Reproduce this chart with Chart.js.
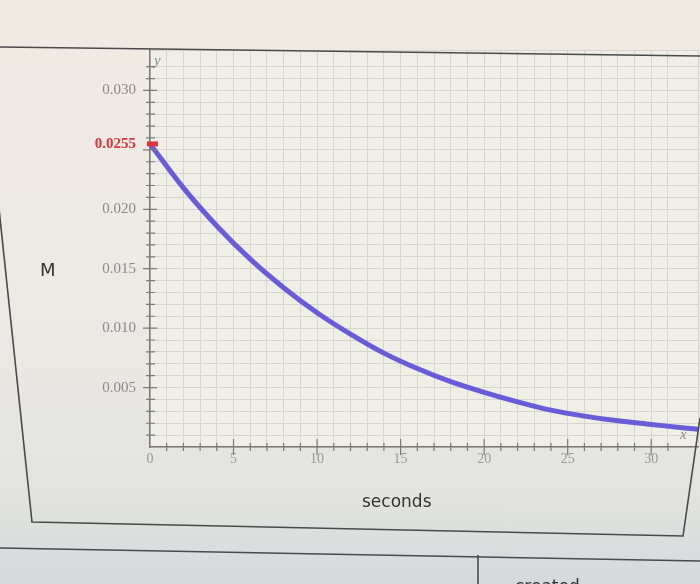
<!DOCTYPE html>
<html>
<head>
<meta charset="utf-8">
<script src="https://cdn.jsdelivr.net/npm/chart.js@4.4.1/dist/chart.umd.min.js"></script>
<style>
  html, body { margin: 0; padding: 0; }
  body {
    width: 700px; height: 584px; overflow: hidden; position: relative;
    background: linear-gradient(to bottom, #f1eae3 0px, #eceae4 300px, #e2e3e0 500px, #d5d9db 584px);
    font-family: "DejaVu Sans", sans-serif;
  }
  #wrap { position: absolute; left: 0; top: 40px; width: 700px; height: 440px; }
  #frame { position: absolute; left: 0; top: 0; width: 700px; height: 584px; pointer-events: none; }
  .lbl { position: absolute; color: #333; }
  .it { position: absolute; font-family: "Liberation Serif", serif; font-style: italic; color: #888; font-size: 15px; }
</style>
</head>
<body>
<div id="wrap"><canvas id="chart" width="700" height="440"></canvas></div>

<svg id="frame" width="700" height="584">
  <g stroke="#4a4a4a" stroke-width="1.6" fill="none">
    <line x1="0" y1="47" x2="700" y2="56"/>
    <polyline points="-18,47 32,522 683,536 700,418"/>
    <line x1="0" y1="548" x2="700" y2="561"/>
    <line x1="478" y1="555" x2="478" y2="584"/>
  </g>
</svg>

<div class="lbl" style="left:40px; top:259px; font-size:18px;">M</div>
<div class="lbl" style="left:362px; top:491px; font-size:17px;">seconds</div>
<div class="lbl" style="left:515px; top:576px; font-size:17px;">created</div>
<div class="it" style="left:154px; top:52px;">y</div>
<div class="it" style="left:680px; top:426px;">x</div>

<script>
// time (s) and M
const T_SEC = [0, 2, 4, 6, 8, 10, 12, 14, 16, 18, 20, 22, 24, 26, 28, 30, 32, 32.8];
const M_VAL = [0.0255, 0.0218, 0.0186, 0.0158, 0.0134, 0.0113, 0.0095, 0.0079, 0.0066,
               0.0055, 0.0046, 0.0038, 0.0031, 0.0026, 0.0022, 0.0019, 0.0016, 0.0015];
const X_LABELS = [0, 5, 10, 15, 20, 25, 30];
const Y_LABELS = [0.005, 0.010, 0.015, 0.020, 0.030];
const M0 = 0.0255; // marked start value

const RED = "#e0323c";
const GRID = "#d5d6ce";
const AXIS = "#7a7a7a";
const near = (a, b) => Math.abs(a - b) < 1e-9;
const isM0 = (c) => !!(c && c.tick && near(c.tick.value, M0));

// plot background + tick marks crossing the axes + red mark at M0
const axisDeco = {
  id: "axisDeco",
  beforeDraw(chart) {
    const { ctx, chartArea: a } = chart;
    ctx.save();
    ctx.fillStyle = "#efefe8";
    ctx.fillRect(a.left, a.top, a.right - a.left, a.bottom - a.top);
    ctx.restore();
  },
  afterDraw(chart) {
    const { ctx, scales: { x, y } } = chart;
    const x0 = x.getPixelForValue(0), y0 = y.getPixelForValue(0);
    ctx.save();
    ctx.strokeStyle = AXIS;
    ctx.lineWidth = 1.2;
    ctx.beginPath();
    y.ticks.forEach((t) => {
      if (t.value <= 0 || near(t.value, M0) || t.value > 0.0331) return;
      const p = y.getPixelForValue(t.value);
      const major = Math.round(t.value * 1000) % 5 === 0;
      ctx.moveTo(x0 - (major ? 7 : 4), p);
      ctx.lineTo(x0 + (major ? 7 : 5), p);
    });
    x.ticks.forEach((t) => {
      if (t.value <= 0 || t.value > 32.5) return;
      const p = x.getPixelForValue(t.value);
      const major = t.value % 5 === 0;
      ctx.moveTo(p, y0 - (major ? 8 : 4));
      ctx.lineTo(p, y0 + (major ? 8 : 4));
    });
    ctx.stroke();
    // red marker at the start value
    const pm = y.getPixelForValue(M0);
    ctx.fillStyle = RED;
    ctx.fillRect(x0 - 3, pm - 2.5, 11, 5);
    ctx.restore();
  },
};

new Chart(document.getElementById("chart"), {
  type: "line",
  data: {
    datasets: [{
      data: T_SEC.map((t, i) => ({ x: t, y: M_VAL[i] })),
      borderColor: "#6a5cd8",
      borderWidth: 5,
      pointRadius: 0,
      cubicInterpolationMode: "monotone",
    }],
  },
  options: {
    responsive: false,
    animation: false,
    devicePixelRatio: 1,
    layout: { padding: { top: 10, right: 2, left: 0, bottom: 0 } },
    plugins: { legend: { display: false }, tooltip: { enabled: false } },
    scales: {
      x: {
        type: "linear", min: 0, max: 32.8,
        afterFit: (s) => { s.height = 33; s.paddingLeft = 0; s.paddingRight = 0; },
        grid: { color: GRID, lineWidth: 1, drawTicks: false },
        border: { color: AXIS, width: 1.5 },
        ticks: {
          stepSize: 1, autoSkip: false, maxRotation: 0, padding: 4,
          color: "#9a9a9a", font: { family: "Liberation Serif", size: 14 },
          callback: (v) => X_LABELS.includes(v) ? String(v) : "",
        },
      },
      y: {
        type: "linear", min: 0, max: 0.0334,
        afterFit: (s) => { s.width = 150; s.paddingTop = 0; s.paddingBottom = 0; },
        afterBuildTicks: (s) => {
          s.ticks.push({ value: M0 });
          s.ticks.sort((a, b) => a.value - b.value);
        },
        grid: {
          drawTicks: false, lineWidth: 1,
          color: (c) => isM0(c) ? "transparent" : GRID,
        },
        border: { color: AXIS, width: 1.5 },
        ticks: {
          stepSize: 0.001, autoSkip: false, maxTicksLimit: 100, padding: 14,
          color: (c) => isM0(c) ? RED : "#8a8a8a",
          font: (c) => isM0(c)
            ? { family: "Liberation Serif", size: 15, weight: "bold" }
            : { family: "Liberation Serif", size: 15 },
          callback: (v) => {
            if (near(v, M0)) return "0.0255";
            return Y_LABELS.some((l) => near(l, v)) ? v.toFixed(3) : "";
          },
        },
      },
    },
  },
  plugins: [axisDeco],
});
</script>
</body>
</html>
